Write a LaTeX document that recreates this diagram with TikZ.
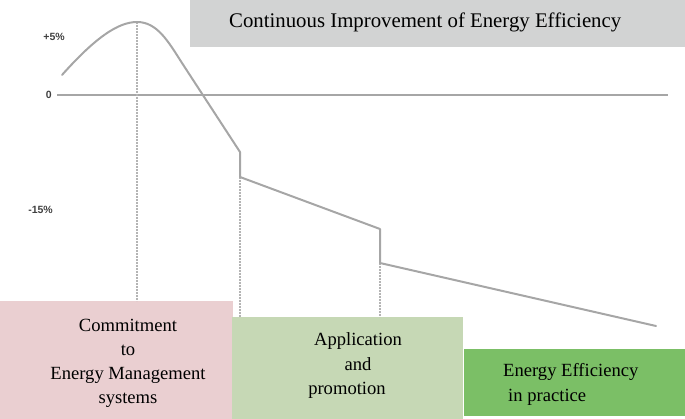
\documentclass[tikz,border=0pt]{standalone}
\usepackage{fontspec}
\setmainfont{Liberation Serif}
\newfontfamily\labfont{Liberation Sans}
\definecolor{titlegray}{HTML}{D2D3D3}
\definecolor{pinkbox}{HTML}{EACFD1}
\definecolor{lightgreen}{HTML}{C6D8B5}
\definecolor{darkgreen}{HTML}{7BBF66}
\definecolor{curvegray}{HTML}{A6A6A6}
\definecolor{vgray}{HTML}{B4B4B4}
\tikzset{
  panel/.style={draw=none, inner sep=0pt, anchor=north west},
  curveline/.style={draw=curvegray, line width=2pt, line join=round},
  axisline/.style={draw=curvegray, line width=2.4pt},
  vline/.style={draw=vgray, line width=1.2pt, dash pattern=on 2pt off 1pt},
  boxtext/.style={inner sep=0pt, font=\fontsize{18.6}{24.3}\selectfont, align=center},
  axlabel/.style={inner sep=0pt, font=\labfont\bfseries\fontsize{10.5}{12}\selectfont, text=black!75},
}
\begin{document}
\begin{tikzpicture}[x=1pt,y=-1pt]
\useasboundingbox (0,0) rectangle (685,419);
% title box
\node[panel, fill=titlegray, minimum width=495pt, minimum height=47pt] (title) at (190,0) {};
\node[inner sep=0pt, anchor=base west, font=\fontsize{20.8}{24}\selectfont] (titletext) at (229,28) {Continuous Improvement of Energy Efficiency};
% axis
\coordinate (axL) at (57,95);
\coordinate (axR) at (668,95);
\draw[axisline] (axL) -- (axR);
\node[axlabel, anchor=east] (lab5) at (65,37) {+5\%};
\node[axlabel, anchor=east] (lab0) at (52,95) {0};
\node[axlabel, anchor=east] (lab15) at (53,210) {-15\%};
% curve points
\coordinate (start) at (62,75);
\coordinate (peak) at (137,22);
\coordinate (bend) at (182,63);
\coordinate (s1top) at (240,152);
\coordinate (s1bot) at (240,177);
\coordinate (s2top) at (380,229);
\coordinate (s2bot) at (380,263);
\coordinate (endpt) at (656,326);
% boxes
\node[panel, fill=pinkbox, minimum width=233pt, minimum height=118pt] (box1) at (0,301) {};
\node[panel, fill=lightgreen, minimum width=231pt, minimum height=102pt] (box2) at (232,317) {};
\node[panel, fill=darkgreen, minimum width=221pt, minimum height=67pt] (box3) at (464,349) {};
% vertical guide lines
\draw[vline] (peak) -- (peak |- box1.north);
\draw[vline] (s1bot) -- (s1bot |- box2.north);
\draw[vline] (s2bot) -- (s2bot |- box2.north);
% curve
\draw[curveline, line cap=round] (start) .. controls (95,38) and (118,22) .. (peak)
  .. controls (157,22) and (168,41) .. (bend) -- (s1top) -- (s1bot) -- (s2top) -- (s2bot) -- (endpt);
% box texts
\node[boxtext] (t1) at (128,363.3) {Commitment\\to\\Energy Management\\systems};
\node[boxtext] (t2) at (358,365.8) {Application\\and\\promotion\hspace*{22pt}};
\node[boxtext, align=left, anchor=west] (t3) at (503,384.3) {Energy Efficiency\\\hspace*{5pt}in practice};
\end{tikzpicture}
\end{document}
